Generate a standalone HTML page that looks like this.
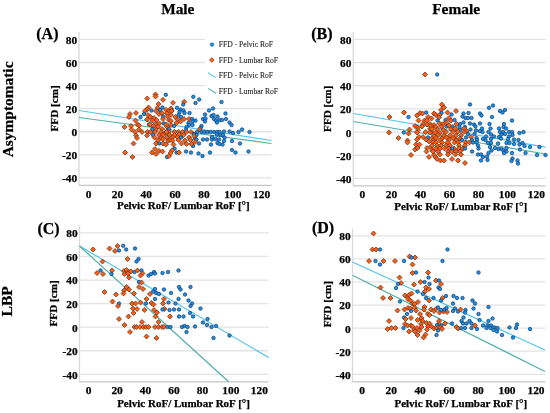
<!DOCTYPE html>
<html><head><meta charset="utf-8"><style>
html,body{margin:0;padding:0;background:#fff;}
svg{display:block;font-family:"Liberation Serif",serif;will-change:transform;}
text[font-weight=bold]{stroke:#000;stroke-width:0.25px;}
.b{fill:#1e92e4;stroke:#0a3a74;stroke-width:0.7}
.o{fill:#f2601c;stroke:#73290a;stroke-width:0.7}
</style></head><body>
<svg width="550" height="413" viewBox="0 0 550 413">
<rect width="550" height="413" fill="#fff"/>
<line x1="79.0" y1="39.40" x2="205" y2="39.40" stroke="#e3e3e3" stroke-width="1.3"/>
<text x="77.2" y="43.8" font-size="11.4" text-anchor="end" font-weight="bold" fill="#000" >80</text>
<line x1="79.0" y1="62.48" x2="205" y2="62.48" stroke="#e3e3e3" stroke-width="1.3"/>
<text x="77.2" y="66.9" font-size="11.4" text-anchor="end" font-weight="bold" fill="#000" >60</text>
<line x1="79.0" y1="85.57" x2="205" y2="85.57" stroke="#e3e3e3" stroke-width="1.3"/>
<text x="77.2" y="90.0" font-size="11.4" text-anchor="end" font-weight="bold" fill="#000" >40</text>
<line x1="79.0" y1="108.65" x2="271.5" y2="108.65" stroke="#e3e3e3" stroke-width="1.3"/>
<text x="77.2" y="113.1" font-size="11.4" text-anchor="end" font-weight="bold" fill="#000" >20</text>
<line x1="79.0" y1="131.73" x2="271.5" y2="131.73" stroke="#e3e3e3" stroke-width="1.3"/>
<text x="77.2" y="136.1" font-size="11.4" text-anchor="end" font-weight="bold" fill="#000" >0</text>
<line x1="79.0" y1="154.82" x2="271.5" y2="154.82" stroke="#e3e3e3" stroke-width="1.3"/>
<text x="77.2" y="159.2" font-size="11.4" text-anchor="end" font-weight="bold" fill="#000" >-20</text>
<line x1="79.0" y1="177.90" x2="271.5" y2="177.90" stroke="#e3e3e3" stroke-width="1.3"/>
<text x="77.2" y="182.3" font-size="11.4" text-anchor="end" font-weight="bold" fill="#000" >-40</text>
<line x1="79.0" y1="32.0" x2="79.0" y2="185.4" stroke="#d9d9d9" stroke-width="1.3"/>
<line x1="79.0" y1="185.4" x2="271.5" y2="185.4" stroke="#c6c6c6" stroke-width="1.3"/>
<text x="88.6" y="197.6" font-size="11.4" text-anchor="middle" font-weight="bold" fill="#000" >0</text>
<text x="117.4" y="197.6" font-size="11.4" text-anchor="middle" font-weight="bold" fill="#000" >20</text>
<text x="146.3" y="197.6" font-size="11.4" text-anchor="middle" font-weight="bold" fill="#000" >40</text>
<text x="175.1" y="197.6" font-size="11.4" text-anchor="middle" font-weight="bold" fill="#000" >60</text>
<text x="203.9" y="197.6" font-size="11.4" text-anchor="middle" font-weight="bold" fill="#000" >80</text>
<text x="232.8" y="197.6" font-size="11.4" text-anchor="middle" font-weight="bold" fill="#000" >100</text>
<text x="261.6" y="197.6" font-size="11.4" text-anchor="middle" font-weight="bold" fill="#000" >120</text>
<line x1="353.3" y1="39.40" x2="545.6" y2="39.40" stroke="#e3e3e3" stroke-width="1.3"/>
<text x="351.5" y="43.8" font-size="11.4" text-anchor="end" font-weight="bold" fill="#000" >80</text>
<line x1="353.3" y1="62.57" x2="545.6" y2="62.57" stroke="#e3e3e3" stroke-width="1.3"/>
<text x="351.5" y="67.0" font-size="11.4" text-anchor="end" font-weight="bold" fill="#000" >60</text>
<line x1="353.3" y1="85.73" x2="545.6" y2="85.73" stroke="#e3e3e3" stroke-width="1.3"/>
<text x="351.5" y="90.1" font-size="11.4" text-anchor="end" font-weight="bold" fill="#000" >40</text>
<line x1="353.3" y1="108.90" x2="545.6" y2="108.90" stroke="#e3e3e3" stroke-width="1.3"/>
<text x="351.5" y="113.3" font-size="11.4" text-anchor="end" font-weight="bold" fill="#000" >20</text>
<line x1="353.3" y1="132.07" x2="545.6" y2="132.07" stroke="#e3e3e3" stroke-width="1.3"/>
<text x="351.5" y="136.5" font-size="11.4" text-anchor="end" font-weight="bold" fill="#000" >0</text>
<line x1="353.3" y1="155.23" x2="545.6" y2="155.23" stroke="#e3e3e3" stroke-width="1.3"/>
<text x="351.5" y="159.6" font-size="11.4" text-anchor="end" font-weight="bold" fill="#000" >-20</text>
<line x1="353.3" y1="178.40" x2="545.6" y2="178.40" stroke="#e3e3e3" stroke-width="1.3"/>
<text x="351.5" y="182.8" font-size="11.4" text-anchor="end" font-weight="bold" fill="#000" >-40</text>
<line x1="353.3" y1="32.0" x2="353.3" y2="185.9" stroke="#d9d9d9" stroke-width="1.3"/>
<line x1="353.3" y1="185.9" x2="545.6" y2="185.9" stroke="#c6c6c6" stroke-width="1.3"/>
<text x="362.4" y="198.1" font-size="11.4" text-anchor="middle" font-weight="bold" fill="#000" >0</text>
<text x="391.4" y="198.1" font-size="11.4" text-anchor="middle" font-weight="bold" fill="#000" >20</text>
<text x="420.4" y="198.1" font-size="11.4" text-anchor="middle" font-weight="bold" fill="#000" >40</text>
<text x="449.4" y="198.1" font-size="11.4" text-anchor="middle" font-weight="bold" fill="#000" >60</text>
<text x="478.4" y="198.1" font-size="11.4" text-anchor="middle" font-weight="bold" fill="#000" >80</text>
<text x="507.4" y="198.1" font-size="11.4" text-anchor="middle" font-weight="bold" fill="#000" >100</text>
<text x="536.4" y="198.1" font-size="11.4" text-anchor="middle" font-weight="bold" fill="#000" >120</text>
<line x1="79.5" y1="232.90" x2="268.6" y2="232.90" stroke="#e3e3e3" stroke-width="1.3"/>
<text x="77.7" y="237.3" font-size="11.4" text-anchor="end" font-weight="bold" fill="#000" >80</text>
<line x1="79.5" y1="256.47" x2="268.6" y2="256.47" stroke="#e3e3e3" stroke-width="1.3"/>
<text x="77.7" y="260.9" font-size="11.4" text-anchor="end" font-weight="bold" fill="#000" >60</text>
<line x1="79.5" y1="280.03" x2="268.6" y2="280.03" stroke="#e3e3e3" stroke-width="1.3"/>
<text x="77.7" y="284.4" font-size="11.4" text-anchor="end" font-weight="bold" fill="#000" >40</text>
<line x1="79.5" y1="303.60" x2="268.6" y2="303.60" stroke="#e3e3e3" stroke-width="1.3"/>
<text x="77.7" y="308.0" font-size="11.4" text-anchor="end" font-weight="bold" fill="#000" >20</text>
<line x1="79.5" y1="327.17" x2="268.6" y2="327.17" stroke="#e3e3e3" stroke-width="1.3"/>
<text x="77.7" y="331.6" font-size="11.4" text-anchor="end" font-weight="bold" fill="#000" >0</text>
<line x1="79.5" y1="350.73" x2="268.6" y2="350.73" stroke="#e3e3e3" stroke-width="1.3"/>
<text x="77.7" y="355.1" font-size="11.4" text-anchor="end" font-weight="bold" fill="#000" >-20</text>
<line x1="79.5" y1="374.30" x2="268.6" y2="374.30" stroke="#e3e3e3" stroke-width="1.3"/>
<text x="77.7" y="378.7" font-size="11.4" text-anchor="end" font-weight="bold" fill="#000" >-40</text>
<line x1="79.5" y1="225.2" x2="79.5" y2="381.8" stroke="#d9d9d9" stroke-width="1.3"/>
<line x1="79.5" y1="381.8" x2="268.6" y2="381.8" stroke="#c6c6c6" stroke-width="1.3"/>
<text x="88.6" y="394.0" font-size="11.4" text-anchor="middle" font-weight="bold" fill="#000" >0</text>
<text x="117.1" y="394.0" font-size="11.4" text-anchor="middle" font-weight="bold" fill="#000" >20</text>
<text x="145.5" y="394.0" font-size="11.4" text-anchor="middle" font-weight="bold" fill="#000" >40</text>
<text x="174.0" y="394.0" font-size="11.4" text-anchor="middle" font-weight="bold" fill="#000" >60</text>
<text x="202.5" y="394.0" font-size="11.4" text-anchor="middle" font-weight="bold" fill="#000" >80</text>
<text x="230.9" y="394.0" font-size="11.4" text-anchor="middle" font-weight="bold" fill="#000" >100</text>
<text x="259.4" y="394.0" font-size="11.4" text-anchor="middle" font-weight="bold" fill="#000" >120</text>
<line x1="352.5" y1="235.80" x2="545.4" y2="235.80" stroke="#e3e3e3" stroke-width="1.3"/>
<text x="350.7" y="240.2" font-size="11.4" text-anchor="end" font-weight="bold" fill="#000" >80</text>
<line x1="352.5" y1="258.88" x2="545.4" y2="258.88" stroke="#e3e3e3" stroke-width="1.3"/>
<text x="350.7" y="263.3" font-size="11.4" text-anchor="end" font-weight="bold" fill="#000" >60</text>
<line x1="352.5" y1="281.97" x2="545.4" y2="281.97" stroke="#e3e3e3" stroke-width="1.3"/>
<text x="350.7" y="286.4" font-size="11.4" text-anchor="end" font-weight="bold" fill="#000" >40</text>
<line x1="352.5" y1="305.05" x2="545.4" y2="305.05" stroke="#e3e3e3" stroke-width="1.3"/>
<text x="350.7" y="309.4" font-size="11.4" text-anchor="end" font-weight="bold" fill="#000" >20</text>
<line x1="352.5" y1="328.13" x2="545.4" y2="328.13" stroke="#e3e3e3" stroke-width="1.3"/>
<text x="350.7" y="332.5" font-size="11.4" text-anchor="end" font-weight="bold" fill="#000" >0</text>
<line x1="352.5" y1="351.22" x2="545.4" y2="351.22" stroke="#e3e3e3" stroke-width="1.3"/>
<text x="350.7" y="355.6" font-size="11.4" text-anchor="end" font-weight="bold" fill="#000" >-20</text>
<line x1="352.5" y1="374.30" x2="545.4" y2="374.30" stroke="#e3e3e3" stroke-width="1.3"/>
<text x="350.7" y="378.7" font-size="11.4" text-anchor="end" font-weight="bold" fill="#000" >-40</text>
<line x1="352.5" y1="228.6" x2="352.5" y2="381.9" stroke="#d9d9d9" stroke-width="1.3"/>
<line x1="352.5" y1="381.9" x2="545.4" y2="381.9" stroke="#c6c6c6" stroke-width="1.3"/>
<text x="362.2" y="394.1" font-size="11.4" text-anchor="middle" font-weight="bold" fill="#000" >0</text>
<text x="391.2" y="394.1" font-size="11.4" text-anchor="middle" font-weight="bold" fill="#000" >20</text>
<text x="420.1" y="394.1" font-size="11.4" text-anchor="middle" font-weight="bold" fill="#000" >40</text>
<text x="449.1" y="394.1" font-size="11.4" text-anchor="middle" font-weight="bold" fill="#000" >60</text>
<text x="478.1" y="394.1" font-size="11.4" text-anchor="middle" font-weight="bold" fill="#000" >80</text>
<text x="507.0" y="394.1" font-size="11.4" text-anchor="middle" font-weight="bold" fill="#000" >100</text>
<text x="536.0" y="394.1" font-size="11.4" text-anchor="middle" font-weight="bold" fill="#000" >120</text>
<text x="177.8" y="13.8" font-size="15.4" text-anchor="middle" font-weight="bold" fill="#000" >Male</text>
<text x="456.1" y="13.8" font-size="15.4" text-anchor="middle" font-weight="bold" fill="#000" >Female</text>
<text transform="translate(12.7,109.4) rotate(-90)" font-size="15.4" text-anchor="middle" font-weight="bold">Asymptomatic</text>
<text transform="translate(12.2,301.3) rotate(-90)" font-size="15.6" text-anchor="middle" font-weight="bold">LBP</text>
<text x="47.4" y="39.3" font-size="16" text-anchor="middle" font-weight="bold" fill="#000" >(A)</text>
<text x="321.9" y="39.3" font-size="16" text-anchor="middle" font-weight="bold" fill="#000" >(B)</text>
<text x="48.5" y="234.0" font-size="16" text-anchor="middle" font-weight="bold" fill="#000" >(C)</text>
<text x="323.0" y="233.3" font-size="16" text-anchor="middle" font-weight="bold" fill="#000" >(D)</text>
<text transform="translate(57.9,108.4) rotate(-90)" font-size="11.2" text-anchor="middle" font-weight="bold">FFD [cm]</text>
<text transform="translate(331.3,108.8) rotate(-90)" font-size="11.2" text-anchor="middle" font-weight="bold">FFD [cm]</text>
<text transform="translate(57.2,303.4) rotate(-90)" font-size="11.2" text-anchor="middle" font-weight="bold">FFD [cm]</text>
<text transform="translate(331.3,304.2) rotate(-90)" font-size="11.2" text-anchor="middle" font-weight="bold">FFD [cm]</text>
<text x="183.3" y="209.4" font-size="11" text-anchor="middle" font-weight="bold" fill="#000" >Pelvic RoF/ Lumbar RoF [°]</text>
<text x="460.7" y="210.0" font-size="11" text-anchor="middle" font-weight="bold" fill="#000" >Pelvic RoF/ Lumbar RoF [°]</text>
<text x="183.5" y="407.0" font-size="11" text-anchor="middle" font-weight="bold" fill="#000" >Pelvic RoF/ Lumbar RoF [°]</text>
<text x="460.8" y="407.4" font-size="11" text-anchor="middle" font-weight="bold" fill="#000" >Pelvic RoF/ Lumbar RoF [°]</text>
<line x1="79" y1="110.5" x2="271.5" y2="140.5" stroke="#56c4ec" stroke-width="1.2"/>
<line x1="79" y1="117.5" x2="271.5" y2="143.5" stroke="#4fb0aa" stroke-width="1.2"/>
<line x1="353.3" y1="113.5" x2="545.5" y2="147.2" stroke="#56c4ec" stroke-width="1.2"/>
<line x1="353.3" y1="121.5" x2="545.5" y2="154" stroke="#4fb0aa" stroke-width="1.2"/>
<line x1="79.5" y1="246" x2="268.6" y2="357.56899999999996" stroke="#56c4ec" stroke-width="1.2"/>
<line x1="79.5" y1="246" x2="228.6" y2="381.8" stroke="#4fb0aa" stroke-width="1.2"/>
<line x1="352.5" y1="262" x2="545" y2="350" stroke="#56c4ec" stroke-width="1.2"/>
<line x1="352.5" y1="275.3" x2="545" y2="371.5" stroke="#4fb0aa" stroke-width="1.2"/>
<rect x="205.5" y="35" width="70" height="62" fill="#fff"/>
<circle cx="212" cy="44.6" r="1.8" fill="#1e96e8" stroke="#0d4f90" stroke-width="0.5"/>
<path d="M211.8 57.6 L214.3 60.1 L211.8 62.6 L209.3 60.1 Z" fill="#f2601a" stroke="#8a3510" stroke-width="0.5"/>
<line x1="208" y1="72.8" x2="215.8" y2="77.6" stroke="#56c4ec" stroke-width="1.1"/>
<line x1="208" y1="88.4" x2="215.8" y2="93.2" stroke="#4fb0aa" stroke-width="1.1"/>
<text x="218.8" y="47.2" font-size="7.6" fill="#222" stroke="#333" stroke-width="0.12">FFD - Pelvic RoF</text>
<text x="218.8" y="63.4" font-size="7.6" fill="#222" stroke="#333" stroke-width="0.12">FFD - Lumbar RoF</text>
<text x="218.8" y="77.6" font-size="7.6" fill="#222" stroke="#333" stroke-width="0.12">FFD - Pelvic RoF</text>
<text x="218.8" y="94.2" font-size="7.6" fill="#222" stroke="#333" stroke-width="0.12">FFD - Lumbar RoF</text>
<path d="M147.2 96.0l2.5 2.5l-2.5 2.5l-2.5-2.5z" class="o"/>
<path d="M155.5 92.0l2.5 2.5l-2.5 2.5l-2.5-2.5z" class="o"/>
<path d="M155.5 94.0l2.5 2.5l-2.5 2.5l-2.5-2.5z" class="o"/>
<circle cx="165.8" cy="94.8" r="1.75" class="b"/>
<path d="M163.0 97.3l2.5 2.5l-2.5 2.5l-2.5-2.5z" class="o"/>
<path d="M158.5 101.5l2.5 2.5l-2.5 2.5l-2.5-2.5z" class="o"/>
<path d="M148.5 105.0l2.5 2.5l-2.5 2.5l-2.5-2.5z" class="o"/>
<path d="M147.0 107.0l2.5 2.5l-2.5 2.5l-2.5-2.5z" class="o"/>
<path d="M157.5 105.3l2.5 2.5l-2.5 2.5l-2.5-2.5z" class="o"/>
<circle cx="162.5" cy="107.5" r="1.75" class="b"/>
<circle cx="160.0" cy="110.0" r="1.75" class="b"/>
<path d="M166.0 107.3l2.5 2.5l-2.5 2.5l-2.5-2.5z" class="o"/>
<circle cx="151.5" cy="110.5" r="1.75" class="b"/>
<path d="M145.0 108.5l2.5 2.5l-2.5 2.5l-2.5-2.5z" class="o"/>
<path d="M156.0 108.5l2.5 2.5l-2.5 2.5l-2.5-2.5z" class="o"/>
<path d="M169.0 108.5l2.5 2.5l-2.5 2.5l-2.5-2.5z" class="o"/>
<path d="M130.0 111.5l2.5 2.5l-2.5 2.5l-2.5-2.5z" class="o"/>
<path d="M136.0 110.5l2.5 2.5l-2.5 2.5l-2.5-2.5z" class="o"/>
<circle cx="144.0" cy="114.0" r="1.75" class="b"/>
<path d="M148.0 112.5l2.5 2.5l-2.5 2.5l-2.5-2.5z" class="o"/>
<path d="M159.0 111.5l2.5 2.5l-2.5 2.5l-2.5-2.5z" class="o"/>
<path d="M162.0 110.5l2.5 2.5l-2.5 2.5l-2.5-2.5z" class="o"/>
<path d="M167.0 111.0l2.5 2.5l-2.5 2.5l-2.5-2.5z" class="o"/>
<path d="M129.0 114.5l2.5 2.5l-2.5 2.5l-2.5-2.5z" class="o"/>
<circle cx="140.5" cy="117.0" r="1.75" class="b"/>
<path d="M150.5 114.5l2.5 2.5l-2.5 2.5l-2.5-2.5z" class="o"/>
<path d="M154.0 115.5l2.5 2.5l-2.5 2.5l-2.5-2.5z" class="o"/>
<circle cx="163.0" cy="116.5" r="1.75" class="b"/>
<path d="M167.5 114.0l2.5 2.5l-2.5 2.5l-2.5-2.5z" class="o"/>
<path d="M135.5 118.0l2.5 2.5l-2.5 2.5l-2.5-2.5z" class="o"/>
<path d="M147.0 117.0l2.5 2.5l-2.5 2.5l-2.5-2.5z" class="o"/>
<path d="M152.5 118.0l2.5 2.5l-2.5 2.5l-2.5-2.5z" class="o"/>
<path d="M156.5 117.5l2.5 2.5l-2.5 2.5l-2.5-2.5z" class="o"/>
<path d="M163.0 116.5l2.5 2.5l-2.5 2.5l-2.5-2.5z" class="o"/>
<path d="M169.0 117.5l2.5 2.5l-2.5 2.5l-2.5-2.5z" class="o"/>
<path d="M137.5 122.0l2.5 2.5l-2.5 2.5l-2.5-2.5z" class="o"/>
<circle cx="149.0" cy="124.5" r="1.75" class="b"/>
<path d="M150.0 122.0l2.5 2.5l-2.5 2.5l-2.5-2.5z" class="o"/>
<path d="M156.0 121.5l2.5 2.5l-2.5 2.5l-2.5-2.5z" class="o"/>
<path d="M159.5 121.0l2.5 2.5l-2.5 2.5l-2.5-2.5z" class="o"/>
<circle cx="164.0" cy="123.5" r="1.75" class="b"/>
<path d="M124.5 124.5l2.5 2.5l-2.5 2.5l-2.5-2.5z" class="o"/>
<path d="M131.0 123.5l2.5 2.5l-2.5 2.5l-2.5-2.5z" class="o"/>
<path d="M139.0 123.0l2.5 2.5l-2.5 2.5l-2.5-2.5z" class="o"/>
<path d="M153.5 123.5l2.5 2.5l-2.5 2.5l-2.5-2.5z" class="o"/>
<path d="M158.0 124.0l2.5 2.5l-2.5 2.5l-2.5-2.5z" class="o"/>
<path d="M167.0 124.0l2.5 2.5l-2.5 2.5l-2.5-2.5z" class="o"/>
<path d="M131.5 127.0l2.5 2.5l-2.5 2.5l-2.5-2.5z" class="o"/>
<path d="M139.0 127.0l2.5 2.5l-2.5 2.5l-2.5-2.5z" class="o"/>
<path d="M147.5 129.5l2.5 2.5l-2.5 2.5l-2.5-2.5z" class="o"/>
<circle cx="152.5" cy="129.0" r="1.75" class="b"/>
<path d="M156.0 127.5l2.5 2.5l-2.5 2.5l-2.5-2.5z" class="o"/>
<path d="M162.0 126.5l2.5 2.5l-2.5 2.5l-2.5-2.5z" class="o"/>
<circle cx="169.0" cy="129.0" r="1.75" class="b"/>
<path d="M135.0 129.5l2.5 2.5l-2.5 2.5l-2.5-2.5z" class="o"/>
<path d="M142.0 129.5l2.5 2.5l-2.5 2.5l-2.5-2.5z" class="o"/>
<path d="M150.5 129.5l2.5 2.5l-2.5 2.5l-2.5-2.5z" class="o"/>
<path d="M155.0 129.5l2.5 2.5l-2.5 2.5l-2.5-2.5z" class="o"/>
<path d="M161.0 129.5l2.5 2.5l-2.5 2.5l-2.5-2.5z" class="o"/>
<path d="M165.0 130.5l2.5 2.5l-2.5 2.5l-2.5-2.5z" class="o"/>
<path d="M169.0 129.5l2.5 2.5l-2.5 2.5l-2.5-2.5z" class="o"/>
<path d="M136.0 133.0l2.5 2.5l-2.5 2.5l-2.5-2.5z" class="o"/>
<path d="M147.0 133.0l2.5 2.5l-2.5 2.5l-2.5-2.5z" class="o"/>
<circle cx="153.0" cy="135.0" r="1.75" class="b"/>
<path d="M159.0 132.5l2.5 2.5l-2.5 2.5l-2.5-2.5z" class="o"/>
<path d="M163.0 132.5l2.5 2.5l-2.5 2.5l-2.5-2.5z" class="o"/>
<path d="M137.0 135.5l2.5 2.5l-2.5 2.5l-2.5-2.5z" class="o"/>
<path d="M154.5 135.0l2.5 2.5l-2.5 2.5l-2.5-2.5z" class="o"/>
<path d="M161.0 135.5l2.5 2.5l-2.5 2.5l-2.5-2.5z" class="o"/>
<path d="M167.0 135.0l2.5 2.5l-2.5 2.5l-2.5-2.5z" class="o"/>
<path d="M133.5 141.0l2.5 2.5l-2.5 2.5l-2.5-2.5z" class="o"/>
<path d="M125.0 150.0l2.5 2.5l-2.5 2.5l-2.5-2.5z" class="o"/>
<path d="M132.5 154.5l2.5 2.5l-2.5 2.5l-2.5-2.5z" class="o"/>
<path d="M156.0 141.0l2.5 2.5l-2.5 2.5l-2.5-2.5z" class="o"/>
<circle cx="159.5" cy="143.5" r="1.75" class="b"/>
<path d="M158.0 137.5l2.5 2.5l-2.5 2.5l-2.5-2.5z" class="o"/>
<path d="M163.0 136.5l2.5 2.5l-2.5 2.5l-2.5-2.5z" class="o"/>
<path d="M163.0 141.0l2.5 2.5l-2.5 2.5l-2.5-2.5z" class="o"/>
<path d="M166.0 142.0l2.5 2.5l-2.5 2.5l-2.5-2.5z" class="o"/>
<path d="M168.0 138.5l2.5 2.5l-2.5 2.5l-2.5-2.5z" class="o"/>
<path d="M155.0 146.5l2.5 2.5l-2.5 2.5l-2.5-2.5z" class="o"/>
<path d="M152.0 150.0l2.5 2.5l-2.5 2.5l-2.5-2.5z" class="o"/>
<path d="M156.0 151.5l2.5 2.5l-2.5 2.5l-2.5-2.5z" class="o"/>
<path d="M159.0 148.5l2.5 2.5l-2.5 2.5l-2.5-2.5z" class="o"/>
<path d="M162.5 149.0l2.5 2.5l-2.5 2.5l-2.5-2.5z" class="o"/>
<circle cx="167.0" cy="157.0" r="1.75" class="b"/>
<path d="M169.0 153.5l2.5 2.5l-2.5 2.5l-2.5-2.5z" class="o"/>
<circle cx="193.3" cy="96.8" r="1.75" class="b"/>
<circle cx="199.2" cy="99.5" r="1.75" class="b"/>
<circle cx="195.5" cy="103.0" r="1.75" class="b"/>
<path d="M173.0 100.3l2.5 2.5l-2.5 2.5l-2.5-2.5z" class="o"/>
<path d="M184.2 99.3l2.5 2.5l-2.5 2.5l-2.5-2.5z" class="o"/>
<circle cx="183.2" cy="104.5" r="1.75" class="b"/>
<circle cx="177.0" cy="107.8" r="1.75" class="b"/>
<path d="M171.0 106.0l2.5 2.5l-2.5 2.5l-2.5-2.5z" class="o"/>
<circle cx="180.5" cy="109.5" r="1.75" class="b"/>
<circle cx="183.5" cy="110.5" r="1.75" class="b"/>
<circle cx="213.0" cy="108.5" r="1.75" class="b"/>
<circle cx="209.0" cy="110.5" r="1.75" class="b"/>
<circle cx="172.0" cy="110.5" r="1.75" class="b"/>
<path d="M171.5 108.5l2.5 2.5l-2.5 2.5l-2.5-2.5z" class="o"/>
<circle cx="179.5" cy="112.0" r="1.75" class="b"/>
<circle cx="184.5" cy="113.0" r="1.75" class="b"/>
<circle cx="189.5" cy="113.0" r="1.75" class="b"/>
<path d="M171.0 112.5l2.5 2.5l-2.5 2.5l-2.5-2.5z" class="o"/>
<circle cx="178.5" cy="115.0" r="1.75" class="b"/>
<circle cx="205.0" cy="114.5" r="1.75" class="b"/>
<circle cx="211.5" cy="116.0" r="1.75" class="b"/>
<circle cx="213.5" cy="115.0" r="1.75" class="b"/>
<circle cx="217.5" cy="116.5" r="1.75" class="b"/>
<path d="M175.5 114.5l2.5 2.5l-2.5 2.5l-2.5-2.5z" class="o"/>
<circle cx="181.0" cy="117.0" r="1.75" class="b"/>
<path d="M184.0 116.5l2.5 2.5l-2.5 2.5l-2.5-2.5z" class="o"/>
<path d="M189.0 116.5l2.5 2.5l-2.5 2.5l-2.5-2.5z" class="o"/>
<circle cx="192.0" cy="119.0" r="1.75" class="b"/>
<circle cx="203.0" cy="119.0" r="1.75" class="b"/>
<circle cx="205.5" cy="118.5" r="1.75" class="b"/>
<circle cx="214.0" cy="119.0" r="1.75" class="b"/>
<path d="M177.5 117.0l2.5 2.5l-2.5 2.5l-2.5-2.5z" class="o"/>
<path d="M171.0 118.5l2.5 2.5l-2.5 2.5l-2.5-2.5z" class="o"/>
<path d="M180.5 119.0l2.5 2.5l-2.5 2.5l-2.5-2.5z" class="o"/>
<circle cx="195.5" cy="120.5" r="1.75" class="b"/>
<circle cx="205.0" cy="121.5" r="1.75" class="b"/>
<circle cx="216.0" cy="120.5" r="1.75" class="b"/>
<circle cx="219.5" cy="120.0" r="1.75" class="b"/>
<path d="M176.5 120.5l2.5 2.5l-2.5 2.5l-2.5-2.5z" class="o"/>
<circle cx="188.5" cy="123.0" r="1.75" class="b"/>
<circle cx="192.5" cy="121.5" r="1.75" class="b"/>
<circle cx="217.0" cy="122.5" r="1.75" class="b"/>
<path d="M166.5 122.0l2.5 2.5l-2.5 2.5l-2.5-2.5z" class="o"/>
<path d="M171.0 122.5l2.5 2.5l-2.5 2.5l-2.5-2.5z" class="o"/>
<circle cx="174.0" cy="126.0" r="1.75" class="b"/>
<circle cx="189.0" cy="125.0" r="1.75" class="b"/>
<circle cx="192.5" cy="125.0" r="1.75" class="b"/>
<circle cx="201.5" cy="126.0" r="1.75" class="b"/>
<circle cx="186.5" cy="127.0" r="1.75" class="b"/>
<circle cx="200.5" cy="128.0" r="1.75" class="b"/>
<path d="M199.5 127.0l2.5 2.5l-2.5 2.5l-2.5-2.5z" class="o"/>
<circle cx="197.0" cy="132.0" r="1.75" class="b"/>
<circle cx="201.5" cy="132.0" r="1.75" class="b"/>
<circle cx="204.5" cy="132.0" r="1.75" class="b"/>
<circle cx="207.5" cy="132.0" r="1.75" class="b"/>
<circle cx="210.5" cy="132.0" r="1.75" class="b"/>
<circle cx="214.0" cy="132.0" r="1.75" class="b"/>
<circle cx="217.0" cy="132.0" r="1.75" class="b"/>
<circle cx="219.5" cy="132.0" r="1.75" class="b"/>
<circle cx="186.0" cy="129.5" r="1.75" class="b"/>
<path d="M166.5 129.5l2.5 2.5l-2.5 2.5l-2.5-2.5z" class="o"/>
<path d="M174.5 129.5l2.5 2.5l-2.5 2.5l-2.5-2.5z" class="o"/>
<path d="M178.5 129.5l2.5 2.5l-2.5 2.5l-2.5-2.5z" class="o"/>
<path d="M182.5 129.5l2.5 2.5l-2.5 2.5l-2.5-2.5z" class="o"/>
<path d="M186.5 129.5l2.5 2.5l-2.5 2.5l-2.5-2.5z" class="o"/>
<path d="M191.0 129.5l2.5 2.5l-2.5 2.5l-2.5-2.5z" class="o"/>
<circle cx="194.0" cy="134.0" r="1.75" class="b"/>
<circle cx="196.5" cy="135.0" r="1.75" class="b"/>
<circle cx="217.0" cy="134.5" r="1.75" class="b"/>
<path d="M169.5 132.5l2.5 2.5l-2.5 2.5l-2.5-2.5z" class="o"/>
<path d="M174.5 132.5l2.5 2.5l-2.5 2.5l-2.5-2.5z" class="o"/>
<path d="M179.0 132.0l2.5 2.5l-2.5 2.5l-2.5-2.5z" class="o"/>
<path d="M183.5 132.5l2.5 2.5l-2.5 2.5l-2.5-2.5z" class="o"/>
<path d="M172.5 135.0l2.5 2.5l-2.5 2.5l-2.5-2.5z" class="o"/>
<path d="M177.5 134.5l2.5 2.5l-2.5 2.5l-2.5-2.5z" class="o"/>
<circle cx="181.0" cy="137.5" r="1.75" class="b"/>
<path d="M189.0 135.0l2.5 2.5l-2.5 2.5l-2.5-2.5z" class="o"/>
<circle cx="195.0" cy="138.5" r="1.75" class="b"/>
<circle cx="196.5" cy="139.5" r="1.75" class="b"/>
<path d="M170.0 137.5l2.5 2.5l-2.5 2.5l-2.5-2.5z" class="o"/>
<path d="M178.5 137.5l2.5 2.5l-2.5 2.5l-2.5-2.5z" class="o"/>
<path d="M185.0 138.0l2.5 2.5l-2.5 2.5l-2.5-2.5z" class="o"/>
<circle cx="203.0" cy="139.5" r="1.75" class="b"/>
<circle cx="207.0" cy="139.5" r="1.75" class="b"/>
<circle cx="212.0" cy="139.5" r="1.75" class="b"/>
<circle cx="219.0" cy="139.5" r="1.75" class="b"/>
<path d="M194.0 133.5l2.5 2.5l-2.5 2.5l-2.5-2.5z" class="o"/>
<circle cx="212.0" cy="137.0" r="1.75" class="b"/>
<circle cx="215.5" cy="139.0" r="1.75" class="b"/>
<circle cx="217.5" cy="143.0" r="1.75" class="b"/>
<circle cx="211.0" cy="144.5" r="1.75" class="b"/>
<circle cx="199.0" cy="143.5" r="1.75" class="b"/>
<circle cx="193.0" cy="146.0" r="1.75" class="b"/>
<path d="M172.5 138.0l2.5 2.5l-2.5 2.5l-2.5-2.5z" class="o"/>
<path d="M190.5 137.5l2.5 2.5l-2.5 2.5l-2.5-2.5z" class="o"/>
<path d="M195.0 139.5l2.5 2.5l-2.5 2.5l-2.5-2.5z" class="o"/>
<path d="M173.5 142.0l2.5 2.5l-2.5 2.5l-2.5-2.5z" class="o"/>
<path d="M181.5 141.0l2.5 2.5l-2.5 2.5l-2.5-2.5z" class="o"/>
<path d="M186.5 141.5l2.5 2.5l-2.5 2.5l-2.5-2.5z" class="o"/>
<path d="M191.5 141.5l2.5 2.5l-2.5 2.5l-2.5-2.5z" class="o"/>
<circle cx="174.5" cy="148.5" r="1.75" class="b"/>
<path d="M172.0 148.0l2.5 2.5l-2.5 2.5l-2.5-2.5z" class="o"/>
<path d="M170.5 150.5l2.5 2.5l-2.5 2.5l-2.5-2.5z" class="o"/>
<circle cx="176.5" cy="152.5" r="1.75" class="b"/>
<path d="M179.0 150.0l2.5 2.5l-2.5 2.5l-2.5-2.5z" class="o"/>
<circle cx="186.0" cy="151.5" r="1.75" class="b"/>
<circle cx="191.0" cy="152.5" r="1.75" class="b"/>
<circle cx="198.5" cy="153.5" r="1.75" class="b"/>
<circle cx="202.5" cy="156.0" r="1.75" class="b"/>
<circle cx="210.0" cy="152.5" r="1.75" class="b"/>
<circle cx="221.5" cy="102.0" r="1.75" class="b"/>
<circle cx="225.5" cy="113.5" r="1.75" class="b"/>
<circle cx="222.0" cy="120.0" r="1.75" class="b"/>
<circle cx="226.0" cy="119.0" r="1.75" class="b"/>
<circle cx="229.5" cy="122.5" r="1.75" class="b"/>
<circle cx="231.5" cy="125.0" r="1.75" class="b"/>
<circle cx="224.0" cy="131.5" r="1.75" class="b"/>
<circle cx="229.5" cy="131.5" r="1.75" class="b"/>
<circle cx="233.0" cy="133.0" r="1.75" class="b"/>
<circle cx="238.5" cy="132.0" r="1.75" class="b"/>
<circle cx="242.0" cy="129.5" r="1.75" class="b"/>
<circle cx="249.5" cy="132.0" r="1.75" class="b"/>
<circle cx="220.5" cy="135.0" r="1.75" class="b"/>
<circle cx="223.0" cy="135.0" r="1.75" class="b"/>
<circle cx="224.5" cy="137.5" r="1.75" class="b"/>
<circle cx="224.0" cy="141.0" r="1.75" class="b"/>
<circle cx="232.0" cy="141.0" r="1.75" class="b"/>
<circle cx="240.0" cy="143.5" r="1.75" class="b"/>
<circle cx="219.5" cy="144.0" r="1.75" class="b"/>
<circle cx="222.5" cy="144.5" r="1.75" class="b"/>
<circle cx="232.0" cy="150.0" r="1.75" class="b"/>
<circle cx="235.5" cy="152.5" r="1.75" class="b"/>
<circle cx="248.5" cy="151.5" r="1.75" class="b"/>
<path d="M425.0 72.0l2.5 2.5l-2.5 2.5l-2.5-2.5z" class="o"/>
<circle cx="437.2" cy="74.5" r="1.75" class="b"/>
<path d="M441.8 102.0l2.5 2.5l-2.5 2.5l-2.5-2.5z" class="o"/>
<path d="M389.5 114.5l2.5 2.5l-2.5 2.5l-2.5-2.5z" class="o"/>
<path d="M404.0 110.0l2.5 2.5l-2.5 2.5l-2.5-2.5z" class="o"/>
<circle cx="408.5" cy="117.0" r="1.75" class="b"/>
<path d="M417.0 113.0l2.5 2.5l-2.5 2.5l-2.5-2.5z" class="o"/>
<path d="M420.0 110.5l2.5 2.5l-2.5 2.5l-2.5-2.5z" class="o"/>
<path d="M422.5 111.0l2.5 2.5l-2.5 2.5l-2.5-2.5z" class="o"/>
<circle cx="426.2" cy="112.5" r="1.75" class="b"/>
<path d="M434.0 111.0l2.5 2.5l-2.5 2.5l-2.5-2.5z" class="o"/>
<path d="M418.5 118.0l2.5 2.5l-2.5 2.5l-2.5-2.5z" class="o"/>
<path d="M428.0 114.5l2.5 2.5l-2.5 2.5l-2.5-2.5z" class="o"/>
<path d="M431.5 116.0l2.5 2.5l-2.5 2.5l-2.5-2.5z" class="o"/>
<path d="M424.5 118.0l2.5 2.5l-2.5 2.5l-2.5-2.5z" class="o"/>
<path d="M427.0 118.0l2.5 2.5l-2.5 2.5l-2.5-2.5z" class="o"/>
<path d="M423.0 121.5l2.5 2.5l-2.5 2.5l-2.5-2.5z" class="o"/>
<path d="M430.0 121.5l2.5 2.5l-2.5 2.5l-2.5-2.5z" class="o"/>
<path d="M434.0 122.5l2.5 2.5l-2.5 2.5l-2.5-2.5z" class="o"/>
<path d="M415.0 123.5l2.5 2.5l-2.5 2.5l-2.5-2.5z" class="o"/>
<path d="M417.5 125.0l2.5 2.5l-2.5 2.5l-2.5-2.5z" class="o"/>
<path d="M422.0 124.0l2.5 2.5l-2.5 2.5l-2.5-2.5z" class="o"/>
<path d="M427.0 122.0l2.5 2.5l-2.5 2.5l-2.5-2.5z" class="o"/>
<path d="M409.5 127.0l2.5 2.5l-2.5 2.5l-2.5-2.5z" class="o"/>
<path d="M418.0 127.5l2.5 2.5l-2.5 2.5l-2.5-2.5z" class="o"/>
<path d="M430.0 126.5l2.5 2.5l-2.5 2.5l-2.5-2.5z" class="o"/>
<path d="M389.0 130.0l2.5 2.5l-2.5 2.5l-2.5-2.5z" class="o"/>
<circle cx="403.8" cy="132.5" r="1.75" class="b"/>
<path d="M408.5 131.0l2.5 2.5l-2.5 2.5l-2.5-2.5z" class="o"/>
<path d="M417.0 130.0l2.5 2.5l-2.5 2.5l-2.5-2.5z" class="o"/>
<path d="M425.5 129.5l2.5 2.5l-2.5 2.5l-2.5-2.5z" class="o"/>
<path d="M432.0 129.5l2.5 2.5l-2.5 2.5l-2.5-2.5z" class="o"/>
<path d="M398.5 135.5l2.5 2.5l-2.5 2.5l-2.5-2.5z" class="o"/>
<path d="M419.0 134.5l2.5 2.5l-2.5 2.5l-2.5-2.5z" class="o"/>
<path d="M423.0 134.5l2.5 2.5l-2.5 2.5l-2.5-2.5z" class="o"/>
<circle cx="428.0" cy="137.5" r="1.75" class="b"/>
<path d="M432.0 135.5l2.5 2.5l-2.5 2.5l-2.5-2.5z" class="o"/>
<path d="M417.0 137.0l2.5 2.5l-2.5 2.5l-2.5-2.5z" class="o"/>
<path d="M426.0 137.0l2.5 2.5l-2.5 2.5l-2.5-2.5z" class="o"/>
<path d="M434.0 137.0l2.5 2.5l-2.5 2.5l-2.5-2.5z" class="o"/>
<path d="M407.5 138.0l2.5 2.5l-2.5 2.5l-2.5-2.5z" class="o"/>
<path d="M407.5 140.0l2.5 2.5l-2.5 2.5l-2.5-2.5z" class="o"/>
<path d="M434.0 133.5l2.5 2.5l-2.5 2.5l-2.5-2.5z" class="o"/>
<path d="M416.0 142.0l2.5 2.5l-2.5 2.5l-2.5-2.5z" class="o"/>
<path d="M419.5 142.0l2.5 2.5l-2.5 2.5l-2.5-2.5z" class="o"/>
<path d="M429.0 139.0l2.5 2.5l-2.5 2.5l-2.5-2.5z" class="o"/>
<path d="M433.0 139.5l2.5 2.5l-2.5 2.5l-2.5-2.5z" class="o"/>
<path d="M415.0 147.0l2.5 2.5l-2.5 2.5l-2.5-2.5z" class="o"/>
<path d="M417.5 145.5l2.5 2.5l-2.5 2.5l-2.5-2.5z" class="o"/>
<path d="M427.0 145.5l2.5 2.5l-2.5 2.5l-2.5-2.5z" class="o"/>
<path d="M431.0 144.5l2.5 2.5l-2.5 2.5l-2.5-2.5z" class="o"/>
<path d="M426.5 149.0l2.5 2.5l-2.5 2.5l-2.5-2.5z" class="o"/>
<path d="M432.0 147.5l2.5 2.5l-2.5 2.5l-2.5-2.5z" class="o"/>
<path d="M411.0 152.5l2.5 2.5l-2.5 2.5l-2.5-2.5z" class="o"/>
<path d="M429.0 154.5l2.5 2.5l-2.5 2.5l-2.5-2.5z" class="o"/>
<path d="M434.0 152.5l2.5 2.5l-2.5 2.5l-2.5-2.5z" class="o"/>
<path d="M444.0 105.0l2.5 2.5l-2.5 2.5l-2.5-2.5z" class="o"/>
<circle cx="470.0" cy="104.5" r="1.75" class="b"/>
<path d="M441.0 107.5l2.5 2.5l-2.5 2.5l-2.5-2.5z" class="o"/>
<path d="M447.5 110.0l2.5 2.5l-2.5 2.5l-2.5-2.5z" class="o"/>
<path d="M456.0 108.5l2.5 2.5l-2.5 2.5l-2.5-2.5z" class="o"/>
<path d="M436.0 112.5l2.5 2.5l-2.5 2.5l-2.5-2.5z" class="o"/>
<circle cx="441.5" cy="113.0" r="1.75" class="b"/>
<path d="M439.5 112.5l2.5 2.5l-2.5 2.5l-2.5-2.5z" class="o"/>
<path d="M439.0 115.0l2.5 2.5l-2.5 2.5l-2.5-2.5z" class="o"/>
<circle cx="451.5" cy="114.5" r="1.75" class="b"/>
<circle cx="463.5" cy="113.5" r="1.75" class="b"/>
<circle cx="468.5" cy="113.0" r="1.75" class="b"/>
<circle cx="480.0" cy="113.5" r="1.75" class="b"/>
<circle cx="481.5" cy="115.5" r="1.75" class="b"/>
<circle cx="462.5" cy="116.5" r="1.75" class="b"/>
<circle cx="465.5" cy="118.0" r="1.75" class="b"/>
<circle cx="468.0" cy="118.0" r="1.75" class="b"/>
<circle cx="471.5" cy="118.0" r="1.75" class="b"/>
<path d="M449.0 115.5l2.5 2.5l-2.5 2.5l-2.5-2.5z" class="o"/>
<path d="M451.0 118.0l2.5 2.5l-2.5 2.5l-2.5-2.5z" class="o"/>
<circle cx="437.5" cy="120.5" r="1.75" class="b"/>
<circle cx="445.5" cy="120.0" r="1.75" class="b"/>
<circle cx="454.5" cy="120.0" r="1.75" class="b"/>
<path d="M439.5 121.0l2.5 2.5l-2.5 2.5l-2.5-2.5z" class="o"/>
<path d="M443.0 121.5l2.5 2.5l-2.5 2.5l-2.5-2.5z" class="o"/>
<path d="M446.5 120.0l2.5 2.5l-2.5 2.5l-2.5-2.5z" class="o"/>
<path d="M456.5 121.5l2.5 2.5l-2.5 2.5l-2.5-2.5z" class="o"/>
<circle cx="460.0" cy="124.0" r="1.75" class="b"/>
<circle cx="463.5" cy="122.5" r="1.75" class="b"/>
<circle cx="470.0" cy="123.5" r="1.75" class="b"/>
<circle cx="474.0" cy="124.5" r="1.75" class="b"/>
<circle cx="480.0" cy="123.5" r="1.75" class="b"/>
<circle cx="446.5" cy="126.5" r="1.75" class="b"/>
<circle cx="452.5" cy="126.5" r="1.75" class="b"/>
<path d="M431.0 123.5l2.5 2.5l-2.5 2.5l-2.5-2.5z" class="o"/>
<path d="M436.0 124.5l2.5 2.5l-2.5 2.5l-2.5-2.5z" class="o"/>
<path d="M441.5 124.0l2.5 2.5l-2.5 2.5l-2.5-2.5z" class="o"/>
<path d="M449.0 123.0l2.5 2.5l-2.5 2.5l-2.5-2.5z" class="o"/>
<circle cx="459.5" cy="127.0" r="1.75" class="b"/>
<circle cx="465.0" cy="127.0" r="1.75" class="b"/>
<circle cx="475.5" cy="126.5" r="1.75" class="b"/>
<circle cx="482.0" cy="128.5" r="1.75" class="b"/>
<path d="M432.0 126.5l2.5 2.5l-2.5 2.5l-2.5-2.5z" class="o"/>
<path d="M437.5 127.0l2.5 2.5l-2.5 2.5l-2.5-2.5z" class="o"/>
<path d="M443.5 127.5l2.5 2.5l-2.5 2.5l-2.5-2.5z" class="o"/>
<path d="M451.0 126.5l2.5 2.5l-2.5 2.5l-2.5-2.5z" class="o"/>
<path d="M455.0 126.0l2.5 2.5l-2.5 2.5l-2.5-2.5z" class="o"/>
<path d="M464.0 126.0l2.5 2.5l-2.5 2.5l-2.5-2.5z" class="o"/>
<path d="M466.5 128.5l2.5 2.5l-2.5 2.5l-2.5-2.5z" class="o"/>
<circle cx="460.0" cy="130.0" r="1.75" class="b"/>
<circle cx="470.5" cy="129.5" r="1.75" class="b"/>
<circle cx="476.0" cy="130.5" r="1.75" class="b"/>
<circle cx="480.0" cy="131.0" r="1.75" class="b"/>
<path d="M430.0 130.0l2.5 2.5l-2.5 2.5l-2.5-2.5z" class="o"/>
<path d="M435.5 130.0l2.5 2.5l-2.5 2.5l-2.5-2.5z" class="o"/>
<path d="M440.0 130.5l2.5 2.5l-2.5 2.5l-2.5-2.5z" class="o"/>
<path d="M446.0 129.5l2.5 2.5l-2.5 2.5l-2.5-2.5z" class="o"/>
<path d="M453.0 129.5l2.5 2.5l-2.5 2.5l-2.5-2.5z" class="o"/>
<path d="M458.0 129.0l2.5 2.5l-2.5 2.5l-2.5-2.5z" class="o"/>
<path d="M464.0 129.5l2.5 2.5l-2.5 2.5l-2.5-2.5z" class="o"/>
<circle cx="468.0" cy="134.0" r="1.75" class="b"/>
<circle cx="474.5" cy="134.0" r="1.75" class="b"/>
<circle cx="482.5" cy="132.0" r="1.75" class="b"/>
<path d="M438.0 132.5l2.5 2.5l-2.5 2.5l-2.5-2.5z" class="o"/>
<path d="M444.0 133.0l2.5 2.5l-2.5 2.5l-2.5-2.5z" class="o"/>
<path d="M450.0 133.0l2.5 2.5l-2.5 2.5l-2.5-2.5z" class="o"/>
<path d="M456.0 133.0l2.5 2.5l-2.5 2.5l-2.5-2.5z" class="o"/>
<path d="M461.0 133.0l2.5 2.5l-2.5 2.5l-2.5-2.5z" class="o"/>
<path d="M436.0 135.5l2.5 2.5l-2.5 2.5l-2.5-2.5z" class="o"/>
<path d="M442.0 136.0l2.5 2.5l-2.5 2.5l-2.5-2.5z" class="o"/>
<path d="M446.5 135.0l2.5 2.5l-2.5 2.5l-2.5-2.5z" class="o"/>
<path d="M453.0 135.5l2.5 2.5l-2.5 2.5l-2.5-2.5z" class="o"/>
<path d="M460.0 136.0l2.5 2.5l-2.5 2.5l-2.5-2.5z" class="o"/>
<path d="M471.0 134.5l2.5 2.5l-2.5 2.5l-2.5-2.5z" class="o"/>
<circle cx="466.0" cy="137.5" r="1.75" class="b"/>
<circle cx="476.5" cy="138.0" r="1.75" class="b"/>
<circle cx="483.0" cy="139.0" r="1.75" class="b"/>
<path d="M440.0 137.5l2.5 2.5l-2.5 2.5l-2.5-2.5z" class="o"/>
<path d="M449.0 137.5l2.5 2.5l-2.5 2.5l-2.5-2.5z" class="o"/>
<path d="M456.0 138.0l2.5 2.5l-2.5 2.5l-2.5-2.5z" class="o"/>
<circle cx="462.0" cy="140.0" r="1.75" class="b"/>
<circle cx="472.0" cy="140.0" r="1.75" class="b"/>
<circle cx="477.0" cy="140.0" r="1.75" class="b"/>
<path d="M436.0 140.0l2.5 2.5l-2.5 2.5l-2.5-2.5z" class="o"/>
<path d="M442.0 140.0l2.5 2.5l-2.5 2.5l-2.5-2.5z" class="o"/>
<path d="M447.5 140.0l2.5 2.5l-2.5 2.5l-2.5-2.5z" class="o"/>
<path d="M454.5 140.0l2.5 2.5l-2.5 2.5l-2.5-2.5z" class="o"/>
<path d="M458.5 140.0l2.5 2.5l-2.5 2.5l-2.5-2.5z" class="o"/>
<path d="M465.5 140.0l2.5 2.5l-2.5 2.5l-2.5-2.5z" class="o"/>
<path d="M469.5 140.0l2.5 2.5l-2.5 2.5l-2.5-2.5z" class="o"/>
<circle cx="473.0" cy="142.5" r="1.75" class="b"/>
<circle cx="476.5" cy="142.5" r="1.75" class="b"/>
<path d="M432.0 143.0l2.5 2.5l-2.5 2.5l-2.5-2.5z" class="o"/>
<path d="M437.0 143.0l2.5 2.5l-2.5 2.5l-2.5-2.5z" class="o"/>
<path d="M441.0 143.0l2.5 2.5l-2.5 2.5l-2.5-2.5z" class="o"/>
<path d="M446.0 143.0l2.5 2.5l-2.5 2.5l-2.5-2.5z" class="o"/>
<path d="M450.0 143.0l2.5 2.5l-2.5 2.5l-2.5-2.5z" class="o"/>
<path d="M459.0 143.0l2.5 2.5l-2.5 2.5l-2.5-2.5z" class="o"/>
<path d="M465.0 143.0l2.5 2.5l-2.5 2.5l-2.5-2.5z" class="o"/>
<circle cx="478.0" cy="145.5" r="1.75" class="b"/>
<path d="M436.0 146.0l2.5 2.5l-2.5 2.5l-2.5-2.5z" class="o"/>
<path d="M440.0 146.0l2.5 2.5l-2.5 2.5l-2.5-2.5z" class="o"/>
<path d="M444.5 146.0l2.5 2.5l-2.5 2.5l-2.5-2.5z" class="o"/>
<path d="M449.0 146.0l2.5 2.5l-2.5 2.5l-2.5-2.5z" class="o"/>
<path d="M454.0 146.0l2.5 2.5l-2.5 2.5l-2.5-2.5z" class="o"/>
<path d="M459.0 146.0l2.5 2.5l-2.5 2.5l-2.5-2.5z" class="o"/>
<path d="M463.0 146.0l2.5 2.5l-2.5 2.5l-2.5-2.5z" class="o"/>
<circle cx="452.0" cy="148.5" r="1.75" class="b"/>
<circle cx="465.0" cy="148.5" r="1.75" class="b"/>
<circle cx="478.5" cy="148.5" r="1.75" class="b"/>
<path d="M433.0 149.0l2.5 2.5l-2.5 2.5l-2.5-2.5z" class="o"/>
<path d="M438.0 149.0l2.5 2.5l-2.5 2.5l-2.5-2.5z" class="o"/>
<path d="M448.0 149.0l2.5 2.5l-2.5 2.5l-2.5-2.5z" class="o"/>
<path d="M452.0 149.0l2.5 2.5l-2.5 2.5l-2.5-2.5z" class="o"/>
<path d="M456.0 149.0l2.5 2.5l-2.5 2.5l-2.5-2.5z" class="o"/>
<path d="M460.0 149.0l2.5 2.5l-2.5 2.5l-2.5-2.5z" class="o"/>
<circle cx="472.0" cy="151.5" r="1.75" class="b"/>
<path d="M440.0 152.0l2.5 2.5l-2.5 2.5l-2.5-2.5z" class="o"/>
<path d="M448.0 152.0l2.5 2.5l-2.5 2.5l-2.5-2.5z" class="o"/>
<path d="M455.5 152.0l2.5 2.5l-2.5 2.5l-2.5-2.5z" class="o"/>
<path d="M461.0 152.0l2.5 2.5l-2.5 2.5l-2.5-2.5z" class="o"/>
<circle cx="478.0" cy="154.5" r="1.75" class="b"/>
<circle cx="481.0" cy="154.5" r="1.75" class="b"/>
<path d="M435.5 154.5l2.5 2.5l-2.5 2.5l-2.5-2.5z" class="o"/>
<circle cx="483.0" cy="157.0" r="1.75" class="b"/>
<path d="M437.0 156.5l2.5 2.5l-2.5 2.5l-2.5-2.5z" class="o"/>
<path d="M452.0 156.5l2.5 2.5l-2.5 2.5l-2.5-2.5z" class="o"/>
<path d="M440.5 158.0l2.5 2.5l-2.5 2.5l-2.5-2.5z" class="o"/>
<path d="M444.0 158.0l2.5 2.5l-2.5 2.5l-2.5-2.5z" class="o"/>
<path d="M458.0 158.0l2.5 2.5l-2.5 2.5l-2.5-2.5z" class="o"/>
<circle cx="481.0" cy="160.5" r="1.75" class="b"/>
<path d="M465.0 160.5l2.5 2.5l-2.5 2.5l-2.5-2.5z" class="o"/>
<circle cx="493.0" cy="105.5" r="1.75" class="b"/>
<circle cx="489.0" cy="107.8" r="1.75" class="b"/>
<circle cx="500.0" cy="111.0" r="1.75" class="b"/>
<circle cx="502.5" cy="112.5" r="1.75" class="b"/>
<circle cx="505.0" cy="110.0" r="1.75" class="b"/>
<circle cx="492.0" cy="117.0" r="1.75" class="b"/>
<circle cx="512.0" cy="120.5" r="1.75" class="b"/>
<circle cx="489.5" cy="124.0" r="1.75" class="b"/>
<circle cx="504.0" cy="124.0" r="1.75" class="b"/>
<circle cx="503.5" cy="127.0" r="1.75" class="b"/>
<circle cx="506.0" cy="128.5" r="1.75" class="b"/>
<circle cx="490.5" cy="128.5" r="1.75" class="b"/>
<circle cx="499.0" cy="128.5" r="1.75" class="b"/>
<circle cx="488.5" cy="132.0" r="1.75" class="b"/>
<circle cx="500.0" cy="132.0" r="1.75" class="b"/>
<circle cx="503.0" cy="132.0" r="1.75" class="b"/>
<circle cx="509.0" cy="132.0" r="1.75" class="b"/>
<circle cx="512.0" cy="132.0" r="1.75" class="b"/>
<circle cx="519.5" cy="133.0" r="1.75" class="b"/>
<circle cx="523.5" cy="132.0" r="1.75" class="b"/>
<circle cx="491.0" cy="134.5" r="1.75" class="b"/>
<circle cx="501.5" cy="134.5" r="1.75" class="b"/>
<circle cx="505.0" cy="134.0" r="1.75" class="b"/>
<circle cx="512.5" cy="135.0" r="1.75" class="b"/>
<circle cx="486.0" cy="136.5" r="1.75" class="b"/>
<circle cx="494.0" cy="136.5" r="1.75" class="b"/>
<circle cx="499.0" cy="137.0" r="1.75" class="b"/>
<circle cx="509.0" cy="136.5" r="1.75" class="b"/>
<circle cx="491.0" cy="139.0" r="1.75" class="b"/>
<circle cx="501.0" cy="138.5" r="1.75" class="b"/>
<circle cx="514.0" cy="139.5" r="1.75" class="b"/>
<circle cx="518.5" cy="140.0" r="1.75" class="b"/>
<circle cx="485.5" cy="140.0" r="1.75" class="b"/>
<circle cx="508.0" cy="139.0" r="1.75" class="b"/>
<circle cx="488.0" cy="143.0" r="1.75" class="b"/>
<circle cx="491.0" cy="143.0" r="1.75" class="b"/>
<circle cx="498.0" cy="143.5" r="1.75" class="b"/>
<circle cx="506.5" cy="143.0" r="1.75" class="b"/>
<circle cx="509.5" cy="143.0" r="1.75" class="b"/>
<circle cx="514.0" cy="144.0" r="1.75" class="b"/>
<circle cx="519.5" cy="144.5" r="1.75" class="b"/>
<circle cx="522.5" cy="143.0" r="1.75" class="b"/>
<circle cx="524.5" cy="146.0" r="1.75" class="b"/>
<circle cx="490.0" cy="147.0" r="1.75" class="b"/>
<circle cx="495.0" cy="148.0" r="1.75" class="b"/>
<circle cx="498.5" cy="149.0" r="1.75" class="b"/>
<circle cx="501.5" cy="149.0" r="1.75" class="b"/>
<circle cx="506.5" cy="148.0" r="1.75" class="b"/>
<circle cx="530.0" cy="147.0" r="1.75" class="b"/>
<circle cx="491.5" cy="150.5" r="1.75" class="b"/>
<circle cx="503.5" cy="150.5" r="1.75" class="b"/>
<circle cx="506.5" cy="151.5" r="1.75" class="b"/>
<circle cx="520.0" cy="149.5" r="1.75" class="b"/>
<circle cx="488.5" cy="153.0" r="1.75" class="b"/>
<circle cx="504.0" cy="153.0" r="1.75" class="b"/>
<circle cx="512.0" cy="153.0" r="1.75" class="b"/>
<circle cx="525.5" cy="153.0" r="1.75" class="b"/>
<circle cx="487.0" cy="156.5" r="1.75" class="b"/>
<circle cx="512.5" cy="158.5" r="1.75" class="b"/>
<circle cx="487.5" cy="160.0" r="1.75" class="b"/>
<circle cx="511.5" cy="161.0" r="1.75" class="b"/>
<circle cx="517.5" cy="160.5" r="1.75" class="b"/>
<circle cx="518.0" cy="163.5" r="1.75" class="b"/>
<circle cx="539.5" cy="147.0" r="1.75" class="b"/>
<circle cx="537.0" cy="155.0" r="1.75" class="b"/>
<circle cx="545.5" cy="155.0" r="1.75" class="b"/>
<path d="M93.0 247.0l2.5 2.5l-2.5 2.5l-2.5-2.5z" class="o"/>
<path d="M109.5 246.0l2.5 2.5l-2.5 2.5l-2.5-2.5z" class="o"/>
<path d="M117.5 243.5l2.5 2.5l-2.5 2.5l-2.5-2.5z" class="o"/>
<path d="M115.0 248.5l2.5 2.5l-2.5 2.5l-2.5-2.5z" class="o"/>
<circle cx="119.0" cy="250.5" r="1.75" class="b"/>
<circle cx="123.2" cy="245.8" r="1.75" class="b"/>
<circle cx="126.2" cy="249.5" r="1.75" class="b"/>
<circle cx="135.0" cy="248.5" r="1.75" class="b"/>
<path d="M127.5 256.5l2.5 2.5l-2.5 2.5l-2.5-2.5z" class="o"/>
<path d="M102.5 259.0l2.5 2.5l-2.5 2.5l-2.5-2.5z" class="o"/>
<circle cx="100.5" cy="270.5" r="1.75" class="b"/>
<path d="M97.0 270.5l2.5 2.5l-2.5 2.5l-2.5-2.5z" class="o"/>
<path d="M103.0 271.5l2.5 2.5l-2.5 2.5l-2.5-2.5z" class="o"/>
<path d="M112.0 268.0l2.5 2.5l-2.5 2.5l-2.5-2.5z" class="o"/>
<circle cx="111.5" cy="274.0" r="1.75" class="b"/>
<path d="M124.0 268.5l2.5 2.5l-2.5 2.5l-2.5-2.5z" class="o"/>
<path d="M126.5 267.5l2.5 2.5l-2.5 2.5l-2.5-2.5z" class="o"/>
<path d="M129.0 269.5l2.5 2.5l-2.5 2.5l-2.5-2.5z" class="o"/>
<path d="M131.0 269.0l2.5 2.5l-2.5 2.5l-2.5-2.5z" class="o"/>
<path d="M124.5 271.5l2.5 2.5l-2.5 2.5l-2.5-2.5z" class="o"/>
<path d="M128.0 271.0l2.5 2.5l-2.5 2.5l-2.5-2.5z" class="o"/>
<circle cx="134.5" cy="272.0" r="1.75" class="b"/>
<path d="M129.0 275.0l2.5 2.5l-2.5 2.5l-2.5-2.5z" class="o"/>
<path d="M104.5 289.5l2.5 2.5l-2.5 2.5l-2.5-2.5z" class="o"/>
<path d="M116.0 292.0l2.5 2.5l-2.5 2.5l-2.5-2.5z" class="o"/>
<path d="M124.0 288.0l2.5 2.5l-2.5 2.5l-2.5-2.5z" class="o"/>
<path d="M126.5 284.5l2.5 2.5l-2.5 2.5l-2.5-2.5z" class="o"/>
<path d="M129.0 287.0l2.5 2.5l-2.5 2.5l-2.5-2.5z" class="o"/>
<path d="M123.5 291.0l2.5 2.5l-2.5 2.5l-2.5-2.5z" class="o"/>
<path d="M134.0 291.0l2.5 2.5l-2.5 2.5l-2.5-2.5z" class="o"/>
<path d="M112.5 299.0l2.5 2.5l-2.5 2.5l-2.5-2.5z" class="o"/>
<circle cx="119.0" cy="303.5" r="1.75" class="b"/>
<path d="M118.0 303.5l2.5 2.5l-2.5 2.5l-2.5-2.5z" class="o"/>
<path d="M132.0 301.0l2.5 2.5l-2.5 2.5l-2.5-2.5z" class="o"/>
<path d="M133.0 306.0l2.5 2.5l-2.5 2.5l-2.5-2.5z" class="o"/>
<path d="M133.5 310.5l2.5 2.5l-2.5 2.5l-2.5-2.5z" class="o"/>
<path d="M128.5 314.0l2.5 2.5l-2.5 2.5l-2.5-2.5z" class="o"/>
<path d="M119.0 316.5l2.5 2.5l-2.5 2.5l-2.5-2.5z" class="o"/>
<path d="M124.5 322.5l2.5 2.5l-2.5 2.5l-2.5-2.5z" class="o"/>
<path d="M130.0 329.5l2.5 2.5l-2.5 2.5l-2.5-2.5z" class="o"/>
<path d="M134.5 324.5l2.5 2.5l-2.5 2.5l-2.5-2.5z" class="o"/>
<circle cx="138.5" cy="259.0" r="1.75" class="b"/>
<circle cx="136.5" cy="261.5" r="1.75" class="b"/>
<path d="M137.5 268.0l2.5 2.5l-2.5 2.5l-2.5-2.5z" class="o"/>
<circle cx="141.5" cy="270.5" r="1.75" class="b"/>
<path d="M142.5 271.0l2.5 2.5l-2.5 2.5l-2.5-2.5z" class="o"/>
<path d="M140.5 273.0l2.5 2.5l-2.5 2.5l-2.5-2.5z" class="o"/>
<circle cx="148.5" cy="275.5" r="1.75" class="b"/>
<circle cx="151.0" cy="274.0" r="1.75" class="b"/>
<circle cx="154.0" cy="272.0" r="1.75" class="b"/>
<circle cx="155.0" cy="273.5" r="1.75" class="b"/>
<circle cx="162.5" cy="273.0" r="1.75" class="b"/>
<circle cx="168.0" cy="272.0" r="1.75" class="b"/>
<circle cx="178.5" cy="270.5" r="1.75" class="b"/>
<circle cx="139.0" cy="282.0" r="1.75" class="b"/>
<path d="M141.5 280.0l2.5 2.5l-2.5 2.5l-2.5-2.5z" class="o"/>
<path d="M139.0 284.5l2.5 2.5l-2.5 2.5l-2.5-2.5z" class="o"/>
<path d="M143.0 286.5l2.5 2.5l-2.5 2.5l-2.5-2.5z" class="o"/>
<circle cx="155.0" cy="289.0" r="1.75" class="b"/>
<circle cx="153.0" cy="291.5" r="1.75" class="b"/>
<circle cx="156.0" cy="293.0" r="1.75" class="b"/>
<circle cx="159.0" cy="294.0" r="1.75" class="b"/>
<path d="M150.0 291.5l2.5 2.5l-2.5 2.5l-2.5-2.5z" class="o"/>
<circle cx="164.0" cy="289.5" r="1.75" class="b"/>
<circle cx="179.0" cy="287.0" r="1.75" class="b"/>
<circle cx="180.5" cy="289.5" r="1.75" class="b"/>
<circle cx="171.0" cy="293.0" r="1.75" class="b"/>
<circle cx="185.0" cy="294.5" r="1.75" class="b"/>
<path d="M146.5 296.5l2.5 2.5l-2.5 2.5l-2.5-2.5z" class="o"/>
<circle cx="155.0" cy="299.0" r="1.75" class="b"/>
<path d="M164.0 296.5l2.5 2.5l-2.5 2.5l-2.5-2.5z" class="o"/>
<circle cx="178.5" cy="299.0" r="1.75" class="b"/>
<path d="M135.5 301.0l2.5 2.5l-2.5 2.5l-2.5-2.5z" class="o"/>
<path d="M140.5 300.0l2.5 2.5l-2.5 2.5l-2.5-2.5z" class="o"/>
<circle cx="146.0" cy="303.5" r="1.75" class="b"/>
<path d="M151.5 300.5l2.5 2.5l-2.5 2.5l-2.5-2.5z" class="o"/>
<path d="M153.5 302.0l2.5 2.5l-2.5 2.5l-2.5-2.5z" class="o"/>
<path d="M163.0 301.0l2.5 2.5l-2.5 2.5l-2.5-2.5z" class="o"/>
<circle cx="168.5" cy="302.5" r="1.75" class="b"/>
<circle cx="175.5" cy="303.5" r="1.75" class="b"/>
<path d="M137.0 306.5l2.5 2.5l-2.5 2.5l-2.5-2.5z" class="o"/>
<path d="M144.5 307.5l2.5 2.5l-2.5 2.5l-2.5-2.5z" class="o"/>
<path d="M154.0 307.5l2.5 2.5l-2.5 2.5l-2.5-2.5z" class="o"/>
<path d="M164.5 306.5l2.5 2.5l-2.5 2.5l-2.5-2.5z" class="o"/>
<circle cx="162.5" cy="309.5" r="1.75" class="b"/>
<circle cx="169.5" cy="310.0" r="1.75" class="b"/>
<circle cx="174.0" cy="309.5" r="1.75" class="b"/>
<circle cx="179.0" cy="309.5" r="1.75" class="b"/>
<path d="M157.0 310.0l2.5 2.5l-2.5 2.5l-2.5-2.5z" class="o"/>
<path d="M155.5 314.0l2.5 2.5l-2.5 2.5l-2.5-2.5z" class="o"/>
<path d="M170.0 314.0l2.5 2.5l-2.5 2.5l-2.5-2.5z" class="o"/>
<circle cx="179.0" cy="316.5" r="1.75" class="b"/>
<circle cx="183.5" cy="316.5" r="1.75" class="b"/>
<path d="M142.0 319.5l2.5 2.5l-2.5 2.5l-2.5-2.5z" class="o"/>
<path d="M158.5 319.5l2.5 2.5l-2.5 2.5l-2.5-2.5z" class="o"/>
<path d="M136.5 324.5l2.5 2.5l-2.5 2.5l-2.5-2.5z" class="o"/>
<path d="M140.0 324.5l2.5 2.5l-2.5 2.5l-2.5-2.5z" class="o"/>
<path d="M143.5 324.5l2.5 2.5l-2.5 2.5l-2.5-2.5z" class="o"/>
<path d="M146.0 324.5l2.5 2.5l-2.5 2.5l-2.5-2.5z" class="o"/>
<path d="M148.5 324.5l2.5 2.5l-2.5 2.5l-2.5-2.5z" class="o"/>
<path d="M155.0 324.5l2.5 2.5l-2.5 2.5l-2.5-2.5z" class="o"/>
<path d="M158.5 324.5l2.5 2.5l-2.5 2.5l-2.5-2.5z" class="o"/>
<path d="M162.0 324.5l2.5 2.5l-2.5 2.5l-2.5-2.5z" class="o"/>
<path d="M164.0 324.5l2.5 2.5l-2.5 2.5l-2.5-2.5z" class="o"/>
<circle cx="167.5" cy="327.0" r="1.75" class="b"/>
<circle cx="170.5" cy="327.0" r="1.75" class="b"/>
<circle cx="182.0" cy="327.0" r="1.75" class="b"/>
<circle cx="184.5" cy="326.0" r="1.75" class="b"/>
<path d="M146.5 334.0l2.5 2.5l-2.5 2.5l-2.5-2.5z" class="o"/>
<path d="M156.5 335.5l2.5 2.5l-2.5 2.5l-2.5-2.5z" class="o"/>
<circle cx="190.5" cy="287.0" r="1.75" class="b"/>
<circle cx="188.5" cy="300.5" r="1.75" class="b"/>
<circle cx="192.0" cy="303.5" r="1.75" class="b"/>
<circle cx="190.5" cy="306.0" r="1.75" class="b"/>
<circle cx="200.5" cy="308.5" r="1.75" class="b"/>
<circle cx="190.0" cy="313.0" r="1.75" class="b"/>
<circle cx="193.0" cy="316.5" r="1.75" class="b"/>
<circle cx="207.5" cy="319.0" r="1.75" class="b"/>
<circle cx="203.0" cy="322.5" r="1.75" class="b"/>
<circle cx="207.0" cy="325.0" r="1.75" class="b"/>
<circle cx="211.5" cy="327.0" r="1.75" class="b"/>
<circle cx="216.0" cy="326.0" r="1.75" class="b"/>
<circle cx="187.5" cy="327.0" r="1.75" class="b"/>
<circle cx="195.0" cy="326.5" r="1.75" class="b"/>
<circle cx="186.5" cy="332.0" r="1.75" class="b"/>
<circle cx="229.5" cy="335.5" r="1.75" class="b"/>
<circle cx="213.5" cy="338.0" r="1.75" class="b"/>
<path d="M373.5 231.0l2.5 2.5l-2.5 2.5l-2.5-2.5z" class="o"/>
<path d="M372.5 247.0l2.5 2.5l-2.5 2.5l-2.5-2.5z" class="o"/>
<path d="M376.0 247.0l2.5 2.5l-2.5 2.5l-2.5-2.5z" class="o"/>
<circle cx="380.0" cy="249.5" r="1.75" class="b"/>
<path d="M369.0 258.5l2.5 2.5l-2.5 2.5l-2.5-2.5z" class="o"/>
<circle cx="375.5" cy="261.0" r="1.75" class="b"/>
<circle cx="380.0" cy="264.5" r="1.75" class="b"/>
<path d="M383.5 258.5l2.5 2.5l-2.5 2.5l-2.5-2.5z" class="o"/>
<path d="M395.0 258.5l2.5 2.5l-2.5 2.5l-2.5-2.5z" class="o"/>
<circle cx="404.0" cy="261.0" r="1.75" class="b"/>
<path d="M409.5 254.0l2.5 2.5l-2.5 2.5l-2.5-2.5z" class="o"/>
<circle cx="447.5" cy="249.5" r="1.75" class="b"/>
<path d="M415.0 255.0l2.5 2.5l-2.5 2.5l-2.5-2.5z" class="o"/>
<circle cx="411.5" cy="257.5" r="1.75" class="b"/>
<circle cx="442.5" cy="261.0" r="1.75" class="b"/>
<path d="M412.5 262.0l2.5 2.5l-2.5 2.5l-2.5-2.5z" class="o"/>
<path d="M399.5 275.0l2.5 2.5l-2.5 2.5l-2.5-2.5z" class="o"/>
<path d="M401.0 280.5l2.5 2.5l-2.5 2.5l-2.5-2.5z" class="o"/>
<circle cx="398.0" cy="284.0" r="1.75" class="b"/>
<circle cx="396.0" cy="288.0" r="1.75" class="b"/>
<path d="M380.5 285.0l2.5 2.5l-2.5 2.5l-2.5-2.5z" class="o"/>
<path d="M383.0 295.5l2.5 2.5l-2.5 2.5l-2.5-2.5z" class="o"/>
<path d="M390.5 295.5l2.5 2.5l-2.5 2.5l-2.5-2.5z" class="o"/>
<circle cx="400.0" cy="301.5" r="1.75" class="b"/>
<path d="M405.0 293.0l2.5 2.5l-2.5 2.5l-2.5-2.5z" class="o"/>
<path d="M407.5 294.5l2.5 2.5l-2.5 2.5l-2.5-2.5z" class="o"/>
<path d="M409.0 292.5l2.5 2.5l-2.5 2.5l-2.5-2.5z" class="o"/>
<path d="M408.0 296.5l2.5 2.5l-2.5 2.5l-2.5-2.5z" class="o"/>
<path d="M412.5 270.5l2.5 2.5l-2.5 2.5l-2.5-2.5z" class="o"/>
<circle cx="416.0" cy="272.5" r="1.75" class="b"/>
<path d="M428.0 270.0l2.5 2.5l-2.5 2.5l-2.5-2.5z" class="o"/>
<circle cx="428.5" cy="277.5" r="1.75" class="b"/>
<path d="M414.0 282.0l2.5 2.5l-2.5 2.5l-2.5-2.5z" class="o"/>
<path d="M420.5 279.5l2.5 2.5l-2.5 2.5l-2.5-2.5z" class="o"/>
<circle cx="424.5" cy="282.0" r="1.75" class="b"/>
<circle cx="429.5" cy="284.0" r="1.75" class="b"/>
<path d="M436.0 278.0l2.5 2.5l-2.5 2.5l-2.5-2.5z" class="o"/>
<circle cx="439.0" cy="280.5" r="1.75" class="b"/>
<path d="M441.0 281.5l2.5 2.5l-2.5 2.5l-2.5-2.5z" class="o"/>
<circle cx="438.5" cy="287.5" r="1.75" class="b"/>
<circle cx="440.0" cy="289.0" r="1.75" class="b"/>
<path d="M426.0 285.0l2.5 2.5l-2.5 2.5l-2.5-2.5z" class="o"/>
<path d="M429.0 286.5l2.5 2.5l-2.5 2.5l-2.5-2.5z" class="o"/>
<path d="M425.0 289.0l2.5 2.5l-2.5 2.5l-2.5-2.5z" class="o"/>
<circle cx="417.5" cy="291.5" r="1.75" class="b"/>
<circle cx="423.0" cy="294.0" r="1.75" class="b"/>
<path d="M411.5 291.0l2.5 2.5l-2.5 2.5l-2.5-2.5z" class="o"/>
<circle cx="426.0" cy="298.0" r="1.75" class="b"/>
<circle cx="433.5" cy="298.0" r="1.75" class="b"/>
<path d="M429.0 298.0l2.5 2.5l-2.5 2.5l-2.5-2.5z" class="o"/>
<path d="M442.5 295.5l2.5 2.5l-2.5 2.5l-2.5-2.5z" class="o"/>
<circle cx="441.0" cy="300.5" r="1.75" class="b"/>
<circle cx="446.0" cy="296.0" r="1.75" class="b"/>
<circle cx="453.5" cy="296.0" r="1.75" class="b"/>
<circle cx="457.0" cy="298.0" r="1.75" class="b"/>
<circle cx="453.0" cy="303.5" r="1.75" class="b"/>
<path d="M410.5 298.0l2.5 2.5l-2.5 2.5l-2.5-2.5z" class="o"/>
<path d="M418.0 299.5l2.5 2.5l-2.5 2.5l-2.5-2.5z" class="o"/>
<path d="M412.5 301.0l2.5 2.5l-2.5 2.5l-2.5-2.5z" class="o"/>
<path d="M414.5 301.5l2.5 2.5l-2.5 2.5l-2.5-2.5z" class="o"/>
<path d="M397.5 308.0l2.5 2.5l-2.5 2.5l-2.5-2.5z" class="o"/>
<path d="M404.5 307.0l2.5 2.5l-2.5 2.5l-2.5-2.5z" class="o"/>
<path d="M408.0 305.5l2.5 2.5l-2.5 2.5l-2.5-2.5z" class="o"/>
<circle cx="407.0" cy="314.0" r="1.75" class="b"/>
<circle cx="404.0" cy="317.5" r="1.75" class="b"/>
<path d="M405.5 316.5l2.5 2.5l-2.5 2.5l-2.5-2.5z" class="o"/>
<path d="M389.0 318.5l2.5 2.5l-2.5 2.5l-2.5-2.5z" class="o"/>
<path d="M405.0 321.5l2.5 2.5l-2.5 2.5l-2.5-2.5z" class="o"/>
<path d="M407.5 323.0l2.5 2.5l-2.5 2.5l-2.5-2.5z" class="o"/>
<circle cx="403.5" cy="328.0" r="1.75" class="b"/>
<path d="M387.5 326.5l2.5 2.5l-2.5 2.5l-2.5-2.5z" class="o"/>
<path d="M391.5 325.5l2.5 2.5l-2.5 2.5l-2.5-2.5z" class="o"/>
<path d="M395.5 325.5l2.5 2.5l-2.5 2.5l-2.5-2.5z" class="o"/>
<path d="M409.0 329.0l2.5 2.5l-2.5 2.5l-2.5-2.5z" class="o"/>
<path d="M410.5 306.0l2.5 2.5l-2.5 2.5l-2.5-2.5z" class="o"/>
<path d="M414.5 305.0l2.5 2.5l-2.5 2.5l-2.5-2.5z" class="o"/>
<path d="M416.0 308.0l2.5 2.5l-2.5 2.5l-2.5-2.5z" class="o"/>
<path d="M424.5 304.5l2.5 2.5l-2.5 2.5l-2.5-2.5z" class="o"/>
<path d="M424.0 307.0l2.5 2.5l-2.5 2.5l-2.5-2.5z" class="o"/>
<path d="M431.0 307.0l2.5 2.5l-2.5 2.5l-2.5-2.5z" class="o"/>
<path d="M434.0 308.5l2.5 2.5l-2.5 2.5l-2.5-2.5z" class="o"/>
<path d="M436.0 306.5l2.5 2.5l-2.5 2.5l-2.5-2.5z" class="o"/>
<path d="M439.5 310.0l2.5 2.5l-2.5 2.5l-2.5-2.5z" class="o"/>
<path d="M443.5 309.0l2.5 2.5l-2.5 2.5l-2.5-2.5z" class="o"/>
<path d="M447.0 309.5l2.5 2.5l-2.5 2.5l-2.5-2.5z" class="o"/>
<circle cx="411.0" cy="311.0" r="1.75" class="b"/>
<circle cx="438.0" cy="307.5" r="1.75" class="b"/>
<circle cx="441.0" cy="310.0" r="1.75" class="b"/>
<circle cx="444.5" cy="309.5" r="1.75" class="b"/>
<circle cx="446.5" cy="308.0" r="1.75" class="b"/>
<circle cx="455.0" cy="308.5" r="1.75" class="b"/>
<circle cx="453.0" cy="311.0" r="1.75" class="b"/>
<circle cx="458.0" cy="311.5" r="1.75" class="b"/>
<path d="M420.0 311.5l2.5 2.5l-2.5 2.5l-2.5-2.5z" class="o"/>
<path d="M428.0 311.5l2.5 2.5l-2.5 2.5l-2.5-2.5z" class="o"/>
<path d="M429.5 312.5l2.5 2.5l-2.5 2.5l-2.5-2.5z" class="o"/>
<path d="M411.0 315.5l2.5 2.5l-2.5 2.5l-2.5-2.5z" class="o"/>
<path d="M421.5 315.5l2.5 2.5l-2.5 2.5l-2.5-2.5z" class="o"/>
<path d="M417.5 317.5l2.5 2.5l-2.5 2.5l-2.5-2.5z" class="o"/>
<path d="M422.5 318.5l2.5 2.5l-2.5 2.5l-2.5-2.5z" class="o"/>
<path d="M439.0 318.5l2.5 2.5l-2.5 2.5l-2.5-2.5z" class="o"/>
<path d="M421.0 321.5l2.5 2.5l-2.5 2.5l-2.5-2.5z" class="o"/>
<path d="M426.5 320.5l2.5 2.5l-2.5 2.5l-2.5-2.5z" class="o"/>
<path d="M429.5 321.0l2.5 2.5l-2.5 2.5l-2.5-2.5z" class="o"/>
<path d="M439.0 321.5l2.5 2.5l-2.5 2.5l-2.5-2.5z" class="o"/>
<path d="M445.0 321.0l2.5 2.5l-2.5 2.5l-2.5-2.5z" class="o"/>
<circle cx="452.0" cy="323.5" r="1.75" class="b"/>
<path d="M411.0 323.0l2.5 2.5l-2.5 2.5l-2.5-2.5z" class="o"/>
<circle cx="437.0" cy="325.0" r="1.75" class="b"/>
<circle cx="441.5" cy="325.5" r="1.75" class="b"/>
<path d="M412.5 324.0l2.5 2.5l-2.5 2.5l-2.5-2.5z" class="o"/>
<path d="M417.0 325.5l2.5 2.5l-2.5 2.5l-2.5-2.5z" class="o"/>
<path d="M421.5 324.5l2.5 2.5l-2.5 2.5l-2.5-2.5z" class="o"/>
<path d="M428.0 324.0l2.5 2.5l-2.5 2.5l-2.5-2.5z" class="o"/>
<path d="M431.5 324.0l2.5 2.5l-2.5 2.5l-2.5-2.5z" class="o"/>
<path d="M434.0 326.0l2.5 2.5l-2.5 2.5l-2.5-2.5z" class="o"/>
<path d="M437.0 325.5l2.5 2.5l-2.5 2.5l-2.5-2.5z" class="o"/>
<path d="M440.5 325.0l2.5 2.5l-2.5 2.5l-2.5-2.5z" class="o"/>
<path d="M442.0 326.5l2.5 2.5l-2.5 2.5l-2.5-2.5z" class="o"/>
<path d="M456.5 324.5l2.5 2.5l-2.5 2.5l-2.5-2.5z" class="o"/>
<path d="M458.0 326.0l2.5 2.5l-2.5 2.5l-2.5-2.5z" class="o"/>
<path d="M414.0 327.5l2.5 2.5l-2.5 2.5l-2.5-2.5z" class="o"/>
<path d="M419.5 328.0l2.5 2.5l-2.5 2.5l-2.5-2.5z" class="o"/>
<path d="M427.0 327.0l2.5 2.5l-2.5 2.5l-2.5-2.5z" class="o"/>
<circle cx="438.0" cy="330.5" r="1.75" class="b"/>
<path d="M415.0 329.0l2.5 2.5l-2.5 2.5l-2.5-2.5z" class="o"/>
<path d="M417.5 332.5l2.5 2.5l-2.5 2.5l-2.5-2.5z" class="o"/>
<path d="M425.5 332.0l2.5 2.5l-2.5 2.5l-2.5-2.5z" class="o"/>
<path d="M423.5 335.0l2.5 2.5l-2.5 2.5l-2.5-2.5z" class="o"/>
<circle cx="436.5" cy="335.0" r="1.75" class="b"/>
<circle cx="478.5" cy="272.5" r="1.75" class="b"/>
<circle cx="462.5" cy="298.0" r="1.75" class="b"/>
<circle cx="472.5" cy="300.5" r="1.75" class="b"/>
<circle cx="475.0" cy="303.5" r="1.75" class="b"/>
<circle cx="473.5" cy="308.5" r="1.75" class="b"/>
<circle cx="488.5" cy="307.0" r="1.75" class="b"/>
<path d="M460.5 307.0l2.5 2.5l-2.5 2.5l-2.5-2.5z" class="o"/>
<circle cx="465.5" cy="310.0" r="1.75" class="b"/>
<circle cx="465.0" cy="312.5" r="1.75" class="b"/>
<circle cx="478.5" cy="314.0" r="1.75" class="b"/>
<circle cx="463.5" cy="317.5" r="1.75" class="b"/>
<circle cx="492.5" cy="318.5" r="1.75" class="b"/>
<circle cx="479.5" cy="320.0" r="1.75" class="b"/>
<circle cx="488.5" cy="321.0" r="1.75" class="b"/>
<circle cx="461.5" cy="321.0" r="1.75" class="b"/>
<circle cx="469.5" cy="321.0" r="1.75" class="b"/>
<circle cx="463.0" cy="323.5" r="1.75" class="b"/>
<circle cx="466.5" cy="323.5" r="1.75" class="b"/>
<circle cx="471.5" cy="323.5" r="1.75" class="b"/>
<path d="M475.0 323.0l2.5 2.5l-2.5 2.5l-2.5-2.5z" class="o"/>
<circle cx="483.0" cy="325.5" r="1.75" class="b"/>
<circle cx="487.5" cy="325.5" r="1.75" class="b"/>
<circle cx="491.0" cy="325.5" r="1.75" class="b"/>
<circle cx="461.0" cy="328.0" r="1.75" class="b"/>
<circle cx="465.0" cy="328.0" r="1.75" class="b"/>
<circle cx="471.5" cy="328.0" r="1.75" class="b"/>
<circle cx="477.0" cy="329.0" r="1.75" class="b"/>
<circle cx="486.5" cy="328.0" r="1.75" class="b"/>
<circle cx="490.5" cy="328.0" r="1.75" class="b"/>
<circle cx="494.5" cy="327.5" r="1.75" class="b"/>
<circle cx="497.5" cy="328.0" r="1.75" class="b"/>
<circle cx="493.5" cy="330.0" r="1.75" class="b"/>
<circle cx="497.0" cy="331.5" r="1.75" class="b"/>
<circle cx="509.5" cy="327.5" r="1.75" class="b"/>
<circle cx="502.0" cy="335.0" r="1.75" class="b"/>
<circle cx="516.0" cy="328.0" r="1.75" class="b"/>
<circle cx="517.0" cy="324.5" r="1.75" class="b"/>
<circle cx="530.0" cy="329.0" r="1.75" class="b"/>
<circle cx="513.0" cy="337.5" r="1.75" class="b"/>
</svg></body></html>
